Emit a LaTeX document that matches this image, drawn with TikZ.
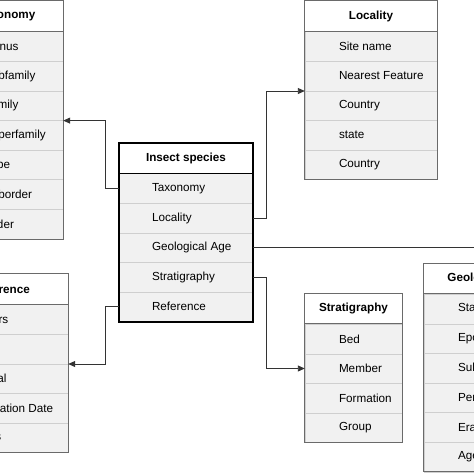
\documentclass[tikz,border=0pt]{standalone}
\usepackage{fontspec}
\setmainfont{Liberation Sans}
\usetikzlibrary{arrows.meta}
\definecolor{boxline}{HTML}{6A6A6A}
\definecolor{rowline}{HTML}{CFCFCF}
\definecolor{rowfill}{HTML}{F1F1F1}
\definecolor{wirecol}{HTML}{333333}
\begin{document}
\begin{tikzpicture}[x=1pt,y=-1pt,font=\fontsize{11.7}{14}\selectfont,
  head/.style={fill=white,minimum height=30pt,inner sep=0pt,font=\fontsize{11.7}{14}\selectfont\bfseries},
  cell/.style={fill=rowfill,draw=rowline,minimum height=29.6pt,inner sep=0pt},
  celltext/.style={anchor=west,inner sep=0pt},
  frame/.style={draw=boxline,line width=0.9pt},
  wire/.style={draw=wirecol,line width=0.9pt,-{Triangle[length=7pt,width=6pt]}}]
  \useasboundingbox (0,0) rectangle (474,474);
  \clip (0,0) rectangle (474,474);

  % Taxonomy
  \node[head,minimum width=113pt] (tax) at (6.5,16) {Taxonomy};
  \foreach \t [count=\i] in {Genus,Subfamily,Family,Superfamily,Tribe,Suborder,Order}{
    \node[cell,minimum width=113pt] (tax-\i) at (6.5,{16.8+29.6*\i}) {};
    \node[celltext] (tax-t\i) at ([xshift=34pt]tax-\i.west) {\t};
  }
  \draw[frame] (tax.north west) rectangle (tax-7.south east);
  \draw[frame] (tax.south west) -- (tax.south east);

  % Locality
  \node[head,minimum width=132pt] (loc) at (371,16) {Locality};
  \foreach \t [count=\i] in {Site name,Nearest Feature,Country,state,Country}{
    \node[cell,minimum width=132pt] (loc-\i) at (371,{16.8+29.6*\i}) {};
    \node[celltext] (loc-t\i) at ([xshift=34pt]loc-\i.west) {\t};
  }
  \draw[frame] (loc.north west) rectangle (loc-5.south east);
  \draw[frame] (loc.south west) -- (loc.south east);

  % Insect species
  \node[head,minimum width=134pt] (ins) at (186,158) {Insect species};
  \foreach \t [count=\i] in {Taxonomy,Locality,Geological Age,Stratigraphy,Reference}{
    \node[cell,minimum width=134pt] (ins-\i) at (186,{158.8+29.6*\i}) {};
    \node[celltext] (ins-t\i) at ([xshift=33pt]ins-\i.west) {\t};
  }
  \draw[line width=1.6pt] (ins.north west) rectangle (ins-5.south east);
  \draw[line width=1pt] (ins.south west) -- (ins.south east);

  % Reference
  \node[head,minimum width=133pt] (ref) at (1.5,289) {Reference};
  \foreach \t [count=\i] in {Authors,Year,Journal,Publication Date,Pages}{
    \node[cell,minimum width=133pt] (ref-\i) at (1.5,{289.8+29.6*\i}) {};
    \node[celltext] (ref-t\i) at ([xshift=33pt]ref-\i.west) {\t};
  }
  \draw[frame] (ref.north west) rectangle (ref-5.south east);
  \draw[frame] (ref.south west) -- (ref.south east);

  % Stratigraphy
  \node[head,minimum width=97pt] (str) at (353.5,308.5) {Stratigraphy};
  \foreach \t [count=\i] in {Bed,Member,Formation,Group}{
    \node[cell,minimum width=97pt] (str-\i) at (353.5,{309.3+29.6*\i}) {};
    \node[celltext] (str-t\i) at ([xshift=34pt]str-\i.west) {\t};
  }
  \draw[frame] (str.north west) rectangle (str-4.south east);
  \draw[frame] (str.south west) -- (str.south east);

  % Geological Age
  \node[head,minimum width=132pt] (geo) at (490,278.5) {Geological Age};
  \foreach \t [count=\i] in {Stage,Epoch,Subperiod,Period,Era,Age}{
    \node[cell,minimum width=132pt] (geo-\i) at (490,{279.3+29.6*\i}) {};
    \node[celltext] (geo-t\i) at ([xshift=34pt]geo-\i.west) {\t};
  }
  \draw[frame] (geo.north west) rectangle (geo-6.south east);
  \draw[frame] (geo.south west) -- (geo.south east);

  % links
  \coordinate (geo-in) at (ins-3.east -| geo.east);
  \draw[wire] (ins-1.west) -- ++(-13,0) |- (tax-3.south east);
  \draw[wire] (ins-5.west) -- ++(-13,0) |- (ref-2.south east);
  \draw[wire] (ins-2.east) -- ++(13,0) |- (loc-2.south west);
  \draw[wire] (ins-4.east) -- ++(13,0) |- (str-2.west);
  \draw[wire] (ins-3.east) -- (geo-in);
\end{tikzpicture}
\end{document}
